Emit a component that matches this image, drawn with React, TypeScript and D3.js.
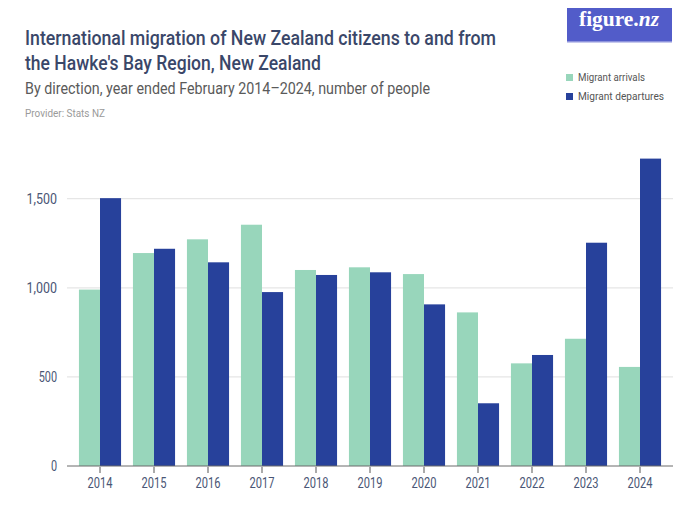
import React, { useEffect, useRef } from 'react';
import * as d3 from 'd3';

const years = ['2014', '2015', '2016', '2017', '2018', '2019', '2020', '2021', '2022', '2023', '2024'];
const arrivals = [990, 1195, 1272, 1354, 1100, 1115, 1077, 862, 576, 714, 556];
const departures = [1503, 1219, 1143, 976, 1072, 1087, 907, 352, 623, 1253, 1725];
const seriesNames = ['Migrant arrivals', 'Migrant departures'];
const seriesColors = ['#98d6bb', '#27419b'];
const yTicks = [0, 500, 1000, 1500];

const FONT = '"Roboto", "Liberation Sans", sans-serif';

// squeeze a text run to a given width, so Roboto reads like the condensed face
const squeeze = (sel: any, w: number) =>
  sel.attr('textLength', w).attr('lengthAdjust', 'spacingAndGlyphs');

const App: React.FC = () => {
  const svgRef = useRef<SVGSVGElement>(null);
  const width = 700;
  const height = 525;

  useEffect(() => {
    if (!svgRef.current) return;
    const svg = d3.select(svgRef.current);
    svg.selectAll('*').remove();

    svg.append('rect').attr('width', width).attr('height', height).attr('fill', '#ffffff');

    // Header
    const titleColor = '#3a4769';
    squeeze(svg.append('text').attr('x', 25).attr('y', 45).attr('font-family', FONT)
      .attr('font-size', 21).attr('font-weight', 500).attr('fill', titleColor)
      .text('International migration of New Zealand citizens to and from'), 471);
    squeeze(svg.append('text').attr('x', 25).attr('y', 70).attr('font-family', FONT)
      .attr('font-size', 21).attr('font-weight', 500).attr('fill', titleColor)
      .text("the Hawke's Bay Region, New Zealand"), 296);
    squeeze(svg.append('text').attr('x', 25).attr('y', 94).attr('font-family', FONT)
      .attr('font-size', 16.5).attr('fill', '#5a5a5a')
      .text('By direction, year ended February 2014–2024, number of people'), 405);
    squeeze(svg.append('text').attr('x', 25).attr('y', 117).attr('font-family', FONT)
      .attr('font-size', 11).attr('fill', '#9a9a9a')
      .text('Provider: Stats NZ'), 80);

    // Logo
    svg.append('rect').attr('x', 567).attr('y', 0).attr('width', 105).attr('height', 42).attr('fill', '#525cc9');
    svg.append('rect').attr('x', 567).attr('y', 41).attr('width', 105).attr('height', 1.5).attr('fill', '#8d93dc');
    const logo = svg.append('text').attr('x', 579).attr('y', 26)
      .attr('font-family', '"Liberation Serif", serif').attr('font-weight', 'bold')
      .attr('font-size', 21).attr('fill', '#ffffff');
    logo.append('tspan').text('figure.');
    logo.append('tspan').attr('font-style', 'italic').text('nz');
    squeeze(logo, 80);

    // Legend
    const legendW = [67, 86];
    seriesNames.forEach((name, i) => {
      const row = svg.append('g').attr('transform', `translate(566, ${77 + i * 19})`);
      row.append('rect').attr('x', 0).attr('y', -3).attr('width', 7).attr('height', 7).attr('fill', seriesColors[i]);
      squeeze(row.append('text').attr('x', 12).attr('y', 4).attr('font-family', FONT)
        .attr('font-size', 11.5).attr('fill', '#555').text(name), legendW[i]);
    });

    // Scales
    const x0 = d3.scaleBand().domain(years).range([73, 667]).paddingInner(0.22).paddingOuter(0.11);
    const x1 = d3.scaleBand().domain(['a', 'd']).range([0, x0.bandwidth()]);
    const y = d3.scaleLinear().domain([0, 1800]).range([466, 466 - 1800 * 0.1782]);

    // Grid
    svg.append('g').selectAll('line').data(yTicks.filter(t => t > 0)).join('line')
      .attr('x1', 67).attr('x2', 673)
      .attr('y1', d => y(d)).attr('y2', d => y(d))
      .attr('stroke', '#e6e6e6').attr('stroke-width', 1.2);

    // Bars
    const groups = svg.append('g').selectAll('g').data(years).join('g')
      .attr('transform', d => `translate(${x0(d)},0)`);
    groups.append('rect')
      .attr('x', x1('a')!).attr('width', x1.bandwidth())
      .attr('y', (_, i) => y(arrivals[i])).attr('height', (_, i) => y(0) - y(arrivals[i]))
      .attr('fill', seriesColors[0]);
    groups.append('rect')
      .attr('x', x1('d')!).attr('width', x1.bandwidth())
      .attr('y', (_, i) => y(departures[i])).attr('height', (_, i) => y(0) - y(departures[i]))
      .attr('fill', seriesColors[1]);

    // Y labels
    const yFmt = d3.format(',');
    svg.append('g').selectAll('text').data(yTicks).join('text')
      .attr('x', 57).attr('y', d => y(d) + 5).attr('text-anchor', 'end')
      .attr('font-family', FONT).attr('font-size', 14).attr('fill', '#4a5675')
      .attr('textLength', d => yFmt(d).length * 6.1)
      .attr('lengthAdjust', 'spacingAndGlyphs')
      .text(d => yFmt(d));

    // X axis
    svg.append('line').attr('x1', 67).attr('x2', 673).attr('y1', y(0)).attr('y2', y(0))
      .attr('stroke', '#6b6b6b').attr('stroke-width', 1);
    const xt = svg.append('g').selectAll('g').data(years).join('g')
      .attr('transform', d => `translate(${x0(d)! + x0.bandwidth() / 2},${y(0)})`);
    xt.append('line').attr('y1', 0.5).attr('y2', 7).attr('stroke', '#aaaaaa').attr('stroke-width', 2);
    xt.append('text').attr('x', -12.5).attr('y', 22)
      .attr('font-family', FONT).attr('font-size', 14).attr('fill', '#4a5675')
      .attr('textLength', 25).attr('lengthAdjust', 'spacingAndGlyphs')
      .text(d => d);
  }, []);

  return <svg ref={svgRef} width={width} height={height} style={{ display: 'block', margin: -8 }} />;
};

export default App;
